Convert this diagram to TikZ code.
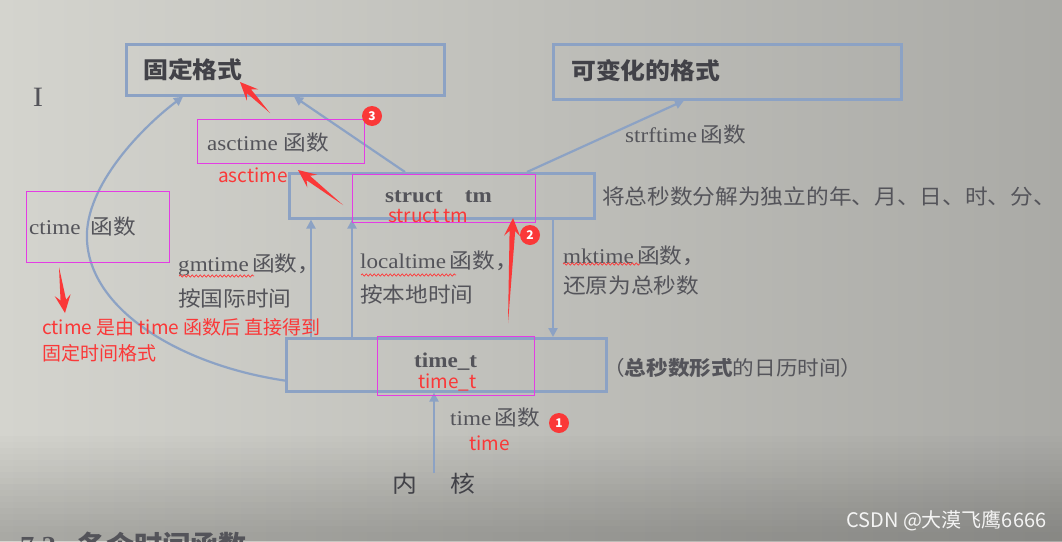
\documentclass[tikz,border=0pt]{standalone}
\usepackage{fontspec}
\setmainfont{Liberation Serif}[FakeStretch=1.1]
\newfontfamily\cjk{Noto Sans CJK SC}[FakeStretch=1.08]
\newfontfamily\redf{Noto Sans CJK SC}
\usetikzlibrary{arrows.meta,calc,decorations.pathmorphing}
\definecolor{ink}{RGB}{84,84,90}
\definecolor{inkd}{RGB}{66,66,72}
\definecolor{boxc}{RGB}{140,162,196}
\definecolor{redc}{RGB}{250,56,56}
\definecolor{pinkc}{RGB}{228,60,228}
\definecolor{bgl}{RGB}{212,212,206}
\definecolor{bgm}{RGB}{220,220,214}
\definecolor{bgr}{RGB}{170,170,166}
\newcommand\redarrow[2]{%
  \coordinate (ra-a) at (#1);
  \coordinate (ra-b) at (#2);
  \coordinate (ra-h) at ($(ra-b)!18pt!(ra-a)$);
  \coordinate (ra-n) at ($(ra-b)!13pt!(ra-a)$);
  \fill[redc] (ra-a) -- ($(ra-n)!2.8pt!90:(ra-b)$) -- ($(ra-h)!8pt!90:(ra-b)$) -- (ra-b)
    -- ($(ra-h)!8pt!-90:(ra-b)$) -- ($(ra-n)!2.8pt!-90:(ra-b)$) -- cycle;}
\begin{document}
\begin{tikzpicture}[x=1pt,y=-1pt,
  boxn/.style={draw=boxc, line width=2.6pt, inner sep=0pt, anchor=north west},
  conn/.style={draw=boxc, line width=2.2pt, -{Triangle[length=9pt,width=9pt]}},
  lbl/.style={text=ink, inner sep=0pt, anchor=west, font=\fontsize{21}{25}\selectfont},
  ttl/.style={text=inkd, inner sep=0pt, anchor=west, font=\fontsize{23}{27}\selectfont\bfseries},
  rtxt/.style={text=redc, inner sep=0pt, anchor=west, font=\redf\fontsize{19}{23}\selectfont},
  pbox/.style={draw=pinkc, line width=1pt},
  num/.style={circle, fill=redc, text=white, inner sep=0pt, minimum size=20pt, font=\redf\fontsize{12}{14}\selectfont\bfseries},
  squig/.style={draw=red!70!pink, line width=0.7pt, decorate, decoration={snake, amplitude=1.1pt, segment length=4pt}}]
\useasboundingbox (0,0) rectangle (1062,541);
\clip (0,0) rectangle (1062,541);
% background (photo of page)
\shade[left color=bgl, middle color=bgm, right color=bgr] (0,0) rectangle (1062,541);
\foreach \i in {1,...,16} {
  \fill[black, opacity=0.012*\i] (0,430+6*\i) rectangle (1062,436+6*\i);
}
\fill[black, opacity=0.2] (0,532) rectangle (1062,541);
% cursor glyph
\node[text=ink, inner sep=0pt, font=\fontsize{28}{30}\selectfont] (cursor) at (38,97) {I};
% boxes
\node[boxn, minimum width=318pt, minimum height=51pt] (fixed) at (125,43) {};
\node[boxn, minimum width=348pt, minimum height=55pt] (var) at (552,43) {};
\node[boxn, minimum width=305pt, minimum height=45pt] (tm) at (288,172) {};
\node[boxn, minimum width=320pt, minimum height=53pt] (tt) at (285,337) {};
% texts
\node[ttl] (tfixed) at (143,70) {\cjk 固定格式};
\node[ttl] (tvar) at (571,71) {\cjk 可变化的格式};
\node[lbl] (lasc) at (207,143) {asctime \cjk 函数};
\node[lbl] (lstrf) at (625,135) {strftime\,\cjk 函数};
\node[lbl, font=\fontsize{21}{25}\selectfont\bfseries] (ltm) at (385,197) {struct\hspace{22pt}tm};
\node[lbl] (ldesc) at (602,196) {\cjk 将总秒数分解为独立的年、月、日、时、分、};
\node[lbl] (lctime) at (29,227) {ctime\hspace{10pt}\cjk 函数};
\node[lbl] (lgm1) at (178,265) {gmtime\,\cjk 函数，};
\node[lbl] (lgm2) at (178,298) {\cjk 按国际时间};
\node[lbl] (llo1) at (360,261) {localtime\,\cjk 函数，};
\node[lbl] (llo2) at (360,294) {\cjk 按本地时间};
\node[lbl] (lmk1) at (563,256) {mktime\,\cjk 函数，};
\node[lbl] (lmk2) at (563,286) {\cjk 还原为总秒数};
\node[lbl, font=\fontsize{21}{25}\selectfont\bfseries] (ltt) at (414,362) {time\_t};
\node[lbl, font=\fontsize{20}{24}\selectfont] (lcal) at (603,368) {\cjk （{\bfseries 总秒数形式}的日历时间）};
\node[lbl] (ltime) at (450,418) {time\,\cjk 函数};
\node[text=inkd, inner sep=0pt, font=\cjk\fontsize{23}{27}\selectfont] (kern) at (434,484) {内\hspace{33pt}核};
\node[text=ink, inner sep=0pt, anchor=west, font=\fontsize{26}{30}\selectfont\bfseries] (sec) at (20,545) {7.2\hspace{22pt}{\cjk 各个时间函数}};
% spell-check squiggles
\draw[squig] (179,276) -- (254,276);
\draw[squig] (361,275) -- (456,275);
\draw[squig] (563,264) -- (640,264);
% connectors
\draw[conn] ($(tm.north west)+(117,0)$) -- ($(fixed.south west)+(169,0)$);
\draw[conn] ($(tm.north west)+(239,0)$) -- ($(var.south west)+(132,0)$);
\draw[conn] ($(tt.north west)+(26,0)$) -- ($(tm.south west)+(23,0)$);
\draw[conn] ($(tt.north west)+(67,0)$) -- ($(tm.south west)+(64,0)$);
\draw[conn] ($(tm.south west)+(265,0)$) -- ($(tt.north west)+(268,0)$);
\draw[conn] (kern.north) -- (kern.north |- tt.south);
\draw[conn] ($(tt.south west)+(0,-12)$) .. controls (180,365) and (90,310) .. (87,240)
  .. controls (84,185) and (145,125) .. ($(fixed.south west)+(58,0)$);
% annotations: pink boxes
\draw[pbox] (197,119) rectangle (364,163);
\draw[pbox] (352,174) rectangle (535,222);
\draw[pbox] (377,336) rectangle (534,395);
\draw[pbox] (26,191) rectangle (169,262);
% annotations: red texts
\node[rtxt] (rasc) at (218,175) {asctime};
\node[rtxt] (rtm) at (388,216) {struct tm};
\node[rtxt] (rtt) at (418,382) {time\_t};
\node[rtxt] (rtime) at (469,443) {time};
\node[rtxt] (rct1) at (42,327) {ctime 是由 time 函数后 直接得到};
\node[rtxt] (rct2) at (42,353) {固定时间格式};
% annotations: red arrows
\redarrow{270,113}{240,82}
\redarrow{343,205}{298,170}
\redarrow{508,323}{513,218}
\redarrow{59,267}{65,313}
% numbered badges
\node[num] (n3) at (372,116) {3};
\node[num] (n2) at (530,235) {2};
\node[num] (n1) at (559,423) {1};
% watermark
\node[anchor=west, inner sep=0pt, text=white, opacity=0.9, font=\redf\fontsize{20}{23}\selectfont] (wm) at (846,521) {CSDN @大漠飞鹰6666};
\end{tikzpicture}
\end{document}
